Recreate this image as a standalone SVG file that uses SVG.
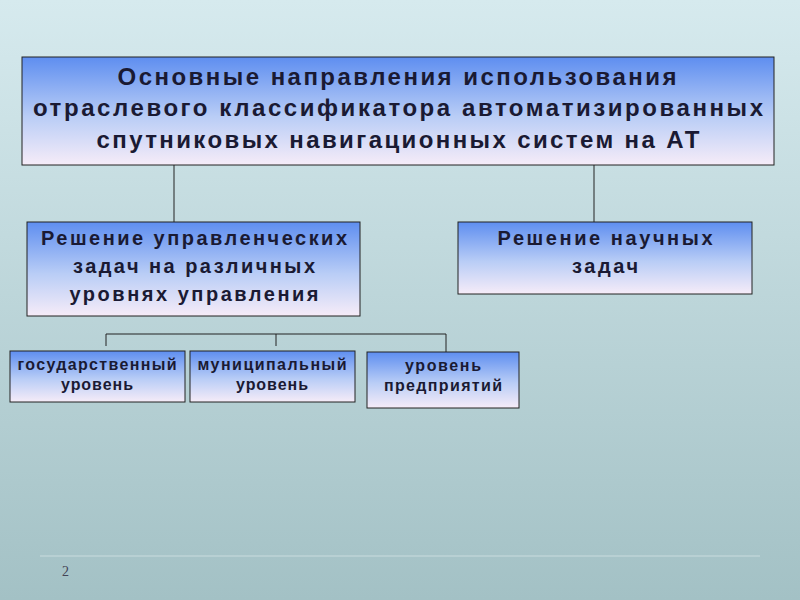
<svg xmlns="http://www.w3.org/2000/svg" width="800" height="600" viewBox="0 0 800 600">
<defs>
<linearGradient id="bg" x1="0" y1="0" x2="0" y2="1"><stop offset="0" stop-color="#d6eaee"/><stop offset="1" stop-color="#a3c1c5"/></linearGradient>
<linearGradient id="box" x1="0" y1="0" x2="0" y2="1"><stop offset="0" stop-color="#5e8ef0"/><stop offset="0.55" stop-color="#b9cdf6"/><stop offset="1" stop-color="#f6ecf8"/></linearGradient>
<style>
.b{fill:url(#box);stroke:#222;stroke-width:1}
.t{font-family:"Liberation Sans",Arial,sans-serif;font-weight:bold;fill:#1a1a33;text-anchor:middle}
.l{stroke:#222;stroke-width:1;fill:none}
</style>
</defs>
<rect width="800" height="600" fill="url(#bg)"/>
<line x1="40" y1="556" x2="760" y2="556" stroke="#b8d0d3" stroke-width="2"/>
<text x="62" y="576" font-family="Liberation Serif,serif" font-size="14" fill="#445">2</text>
<g id="connectors">
<path class="l" d="M174 165V222M594 165V222M106 346V334H446V352M276 334V346"/>
</g>
<g id="top"><rect class="b" x="22" y="57" width="752" height="108"/>
<text class="t" font-size="24" lengthAdjust="spacingAndGlyphs"><tspan x="397" y="85" textLength="559">Основные направления использования</tspan><tspan x="398" y="116" textLength="730">отраслевого  классификатора автоматизированных</tspan><tspan x="398" y="148" textLength="603">спутниковых навигационных систем на АТ</tspan></text></g>
<g id="n1"><rect class="b" x="27" y="222" width="333" height="94"/>
<text class="t" font-size="20"><tspan x="194" y="245" textLength="306">Решение управленческих</tspan><tspan x="194" y="273" textLength="242">задач на различных</tspan><tspan x="194" y="301" textLength="249">уровнях управления</tspan></text></g>
<g id="n2"><rect class="b" x="458" y="222" width="294" height="72"/>
<text class="t" font-size="20"><tspan x="605" y="245" textLength="215">Решение научных</tspan><tspan x="605" y="273" textLength="66">задач</tspan></text></g>
<g id="g1"><rect class="b" x="10" y="351" width="175" height="51"/>
<text class="t" font-size="16"><tspan x="97" y="370" textLength="159">государственный</tspan><tspan x="97" y="390" textLength="72">уровень</tspan></text></g>
<g id="g2"><rect class="b" x="190" y="351" width="165" height="51"/>
<text class="t" font-size="16"><tspan x="272" y="370" textLength="149">муниципальный</tspan><tspan x="272" y="390" textLength="72">уровень</tspan></text></g>
<g id="g3"><rect class="b" x="367" y="352" width="152" height="56"/>
<text class="t" font-size="16"><tspan x="443" y="371" textLength="76">уровень</tspan><tspan x="443" y="391" textLength="118">предприятий</tspan></text></g>
</svg>
